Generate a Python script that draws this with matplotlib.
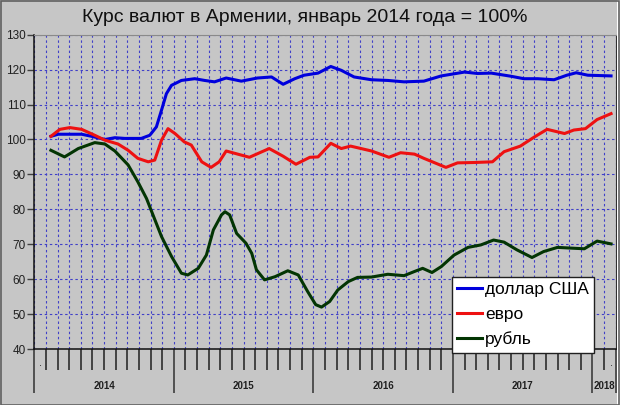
import matplotlib
matplotlib.use("Agg")
from matplotlib import pyplot as plt
from matplotlib.patches import Rectangle
import matplotlib.transforms as mtransforms

plt.rcParams['font.family'] = ['Liberation Sans', 'DejaVu Sans']

# months counted from January 2014 (0 = start of Jan 2014)
usd_m = [1.43, 2.06, 4.07, 4.93, 6.07, 6.93, 7.78, 9.2, 9.93, 10.5, 10.94, 11.36, 11.8,
         12.65, 13.8, 14.65, 15.5, 16.5, 17.8, 19.2, 20.4, 21.4, 22.4, 23.2, 24.4, 25.5,
         26.4, 27.5, 29, 30.4, 31.8, 33.5, 35, 37, 38.1, 39.3, 41, 42.1, 43.3, 44.7,
         45.8, 46.6, 47.6, 49.6]
usd_v = [100.9, 101.5, 101.5, 100.9, 100, 100.5, 100.3, 100.3, 101.2, 103.6, 108.4, 113.1,
         115.5, 116.9, 117.4, 116.9, 116.5, 117.6, 116.7, 117.6, 117.9, 115.8, 117.4, 118.4,
         119, 120.9, 119.8, 117.9, 117.1, 116.9, 116.5, 116.7, 118.2, 119.3, 118.9, 119,
         118.1, 117.4, 117.4, 117.1, 118.4, 119.1, 118.4, 118.2]

eur_m = [1.43, 2.2, 3.06, 4.07, 5.2, 6.07, 7.2, 8.07, 8.9, 9.8, 10.36, 10.94, 11.5, 12.1,
         12.9, 13.5, 14.4, 15.2, 15.9, 16.5, 17.5, 18.5, 20.2, 21.4, 22.5, 23.7, 24.4,
         25.5, 26.4, 27.2, 29, 30.5, 31.5, 32.7, 33.5, 35.4, 36.4, 37.8, 39.4, 40.4, 41.8,
         43, 44.1, 45.6, 46.4, 47.4, 48.4, 49.6]
eur_v = [100.9, 102.9, 103.4, 102.9, 101.2, 99.8, 98.7, 96.9, 94.6, 93.6, 94.1, 99.8, 103.1,
         101.7, 99.3, 98.4, 93.6, 92, 93.6, 96.7, 95.8, 94.9, 97.4, 95.2, 92.9, 94.9, 95,
         98.9, 97.4, 98.1, 96.7, 94.9, 96.2, 95.8, 94.6, 92, 93.3, 93.4, 93.6, 96.5, 98.1,
         100.7, 102.9, 101.7, 102.7, 103.1, 105.7, 107.4]

rub_m = [1.43, 2.6, 3.78, 5.2, 6.07, 6.93, 8.07, 8.9, 9.65, 10.94, 11.8, 12.65, 13.2, 14.1,
         14.8, 15.4, 16.1, 16.4, 16.8, 17.4, 18.2, 18.7, 19.1, 19.8, 20.7, 21.8, 22.7, 23.5,
         24.2, 24.7, 25.4, 26.1, 27, 27.8, 29, 30.4, 31.8, 32.7, 33.4, 34.2, 35, 36.1, 37.3,
         38.4, 39.5, 40.4, 41.5, 42.8, 43.8, 45, 46.1, 47.3, 48.4, 49.6]
rub_v = [96.9, 95, 97.4, 99.1, 98.7, 96.7, 92.7, 87.9, 83.1, 72.2, 66.5, 61.7, 61.2, 63.1,
         66.9, 74.1, 78.4, 79.3, 78.4, 73.1, 70.3, 67.4, 62.7, 59.8, 60.7, 62.4, 61.2, 56.5,
         52.7, 52, 53.6, 56.9, 59.3, 60.5, 60.6, 61.4, 61, 62.2, 63.1, 61.9, 63.6, 66.9, 69.1,
         69.8, 71.2, 70.6, 68.4, 66.2, 67.9, 69.1, 68.9, 68.7, 70.9, 70.1]

years = ['2014', '2015', '2016', '2017', '2018']
year_pos = [6, 18, 30, 42, 49]
year_edges = [0, 12, 24, 36, 48, 50]
labels = ['доллар США', 'евро', 'рубль']
title = 'Курс валют в Армении, январь 2014 года = 100%'

W, H = 620, 405
L, R, T, B = 34.3, 615.7, 34.7, 349.0
bg = '#c6c6c6'

fig = plt.figure(figsize=(W / 100, H / 100), dpi=100, facecolor=bg)
ax = fig.add_axes([L / W, (H - B) / H, (R - L) / W, (B - T) / H])
ax.set_facecolor(bg)

ax.plot(usd_m, usd_v, color='#0000dd', lw=2.2, label=labels[0], zorder=3)
ax.plot(eur_m, eur_v, color='#ee1111', lw=2.2, label=labels[1], zorder=3)
ax.plot(rub_m, rub_v, color='#033503', lw=2.2, label=labels[2], zorder=3)

ax.set_xlim(0, 50)
ax.set_ylim(40, 130)
ax.set_yticks(range(40, 131, 10))
ax.set_xticks(year_edges)
ax.set_xticks([m for m in range(1, 50) if m % 12], minor=True)
ax.set_xticklabels([])

gridstyle = dict(color='#4040c8', linestyle=(0, (2.2, 2.4)), linewidth=0.8)
ax.grid(True, which='both', axis='x', **gridstyle)
ax.grid(True, which='major', axis='y', **gridstyle)
ax.set_axisbelow(True)

ax.tick_params(axis='x', which='major', direction='out', length=31.5, width=1.1, color='#303030')
ax.tick_params(axis='x', which='minor', direction='out', length=15, width=1.1, color='#202020')
ax.tick_params(axis='y', direction='out', length=5, width=1, color='#404040', pad=1,
               labelsize=8.5, labelcolor='#202020')

for s in ['left', 'bottom']:
    ax.spines[s].set_color('#101010')
    ax.spines[s].set_linewidth(1.1)
ax.spines['top'].set_color('#8a8a8a')
ax.spines['right'].set_color('#303030')

trans = mtransforms.blended_transform_factory(ax.transData, ax.transAxes)
ylab = (B - 386) / (B - T)
for yr, p in zip(years, year_pos):
    ax.text(p, ylab, yr, transform=trans, ha='center', va='center',
            fontsize=7, fontweight='bold', color='#202020')
ydot = (B - 363) / (B - T)
ax.text(0.5, ydot, '.', transform=trans, ha='center', va='center', fontsize=8, color='#202020')
ax.text(49.6, ydot, '.', transform=trans, ha='center', va='center', fontsize=8, color='#202020')

leg = ax.legend(loc='upper left', bbox_to_anchor=(452 / W, 1 - 277 / H),
                bbox_transform=fig.transFigure, borderaxespad=0, fancybox=False,
                framealpha=1, edgecolor='#202020', fontsize=12.5, handlelength=1.45,
                handletextpad=0.15, borderpad=0.3, labelspacing=0.55)
leg.get_frame().set_linewidth(1)
leg.set_zorder(10)

fig.text(305 / W, 1 - 18 / H, title, ha='center', va='center', fontsize=14, color='#101010')

fig.patches.append(Rectangle((617 / W, 0), 3 / W, 1, transform=fig.transFigure,
                             facecolor='white', edgecolor='none', zorder=0))
fig.patches.append(Rectangle((0.001, 0.001), 0.997, 0.997, transform=fig.transFigure,
                             fill=False, edgecolor='#606060', lw=1.2))

fig.savefig('out.png', dpi=100, facecolor=bg)
